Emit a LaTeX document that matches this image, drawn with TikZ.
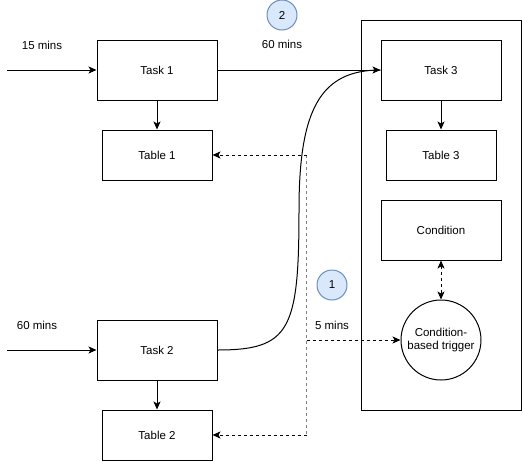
\documentclass[tikz,border=0pt]{standalone}
\usepackage{fontspec}
\setmainfont{Liberation Sans}
\usetikzlibrary{arrows.meta}
\definecolor{numfill}{HTML}{DAE8FC}
\definecolor{numdraw}{HTML}{6C8EBF}
\begin{document}
\begin{tikzpicture}[x=1pt,y=-1pt,
  every node/.style={font=\fontsize{11.5}{13.5}\selectfont},
  box/.style={draw,line width=1pt,minimum width=120pt,minimum height=60pt,inner sep=0pt},
  tbox/.style={draw,line width=1pt,minimum width=110pt,minimum height=50pt,inner sep=0pt},
  numc/.style={circle,draw=numdraw,fill=numfill,line width=1pt,minimum size=30pt,inner sep=0pt},
  lbl/.style={inner sep=0pt},
  arr/.style={line width=1pt,-{Stealth[length=8pt,width=7pt,inset=2pt]}},
  darr/.style={line width=1pt,dash pattern=on 3pt off 3pt,-{Stealth[length=8pt,width=7pt,inset=2pt]}},
  ddarr/.style={line width=1pt,dash pattern=on 3pt off 3pt,{Stealth[length=8pt,width=7pt,inset=2pt]}-{Stealth[length=8pt,width=7pt,inset=2pt]}}
]
\useasboundingbox (0,0) rectangle (522,461);
% container
\node[draw,line width=1pt,minimum width=160pt,minimum height=390pt,inner sep=0pt] (cont) at (441,215) {};
% nodes
\node[box] (t1) at (157,70) {Task 1};
\node[tbox] (tb1) at (157,155) {Table 1};
\node[box] (t2) at (157,350) {Task 2};
\node[tbox] (tb2) at (157,435) {Table 2};
\node[box] (t3) at (441,70) {Task 3};
\node[tbox] (tb3) at (441,155) {Table 3};
\node[box] (cond) at (441,230) {Condition};
\node[circle,draw,line width=1pt,minimum size=80pt,inner sep=0pt,align=center] (trig) at (441,340) {Condition-\\based trigger};
% number badges
\node[numc] (n2) at (282,15) {2};
\node[numc] (n1) at (332,285) {1};
% labels
\node[lbl] (l15) at (42,45) {15 mins};
\node[lbl] (l60a) at (37,325) {60 mins};
\node[lbl] (l60b) at (282,44) {60 mins};
\node[lbl] (l5) at (332,325) {5 mins};
% free ends
\coordinate (in1) at (7,70);
\coordinate (in2) at (7,350);
\coordinate (ja) at (306.5,155);
\coordinate (jb) at (306.5,435);
\coordinate (jc) at (306.5,340);
% edges
\draw[arr] (in1) -- (t1.west);
\draw[arr] (in2) -- (t2.west);
\draw[arr] (t1.south) -- (tb1.north);
\draw[arr] (t2.south) -- (tb2.north);
\draw[arr] (t3.south) -- (tb3.north);
\draw[arr] (t1.east) -- (t3.west);
\draw[line width=1pt] (t2.east) .. controls (290,350) and (299,330) .. (299,210) .. controls (299,110) and (320,70) .. (t3.west);
\draw[line width=1pt,gray,dash pattern=on 3pt off 3pt] (ja) -- (jb);
\draw[darr] (ja) -- (tb1.east);
\draw[darr] (jb) -- (tb2.east);
\draw[darr] (jc) -- (trig.west);
\draw[ddarr] (cond.south) -- (trig.north);
\end{tikzpicture}
\end{document}
